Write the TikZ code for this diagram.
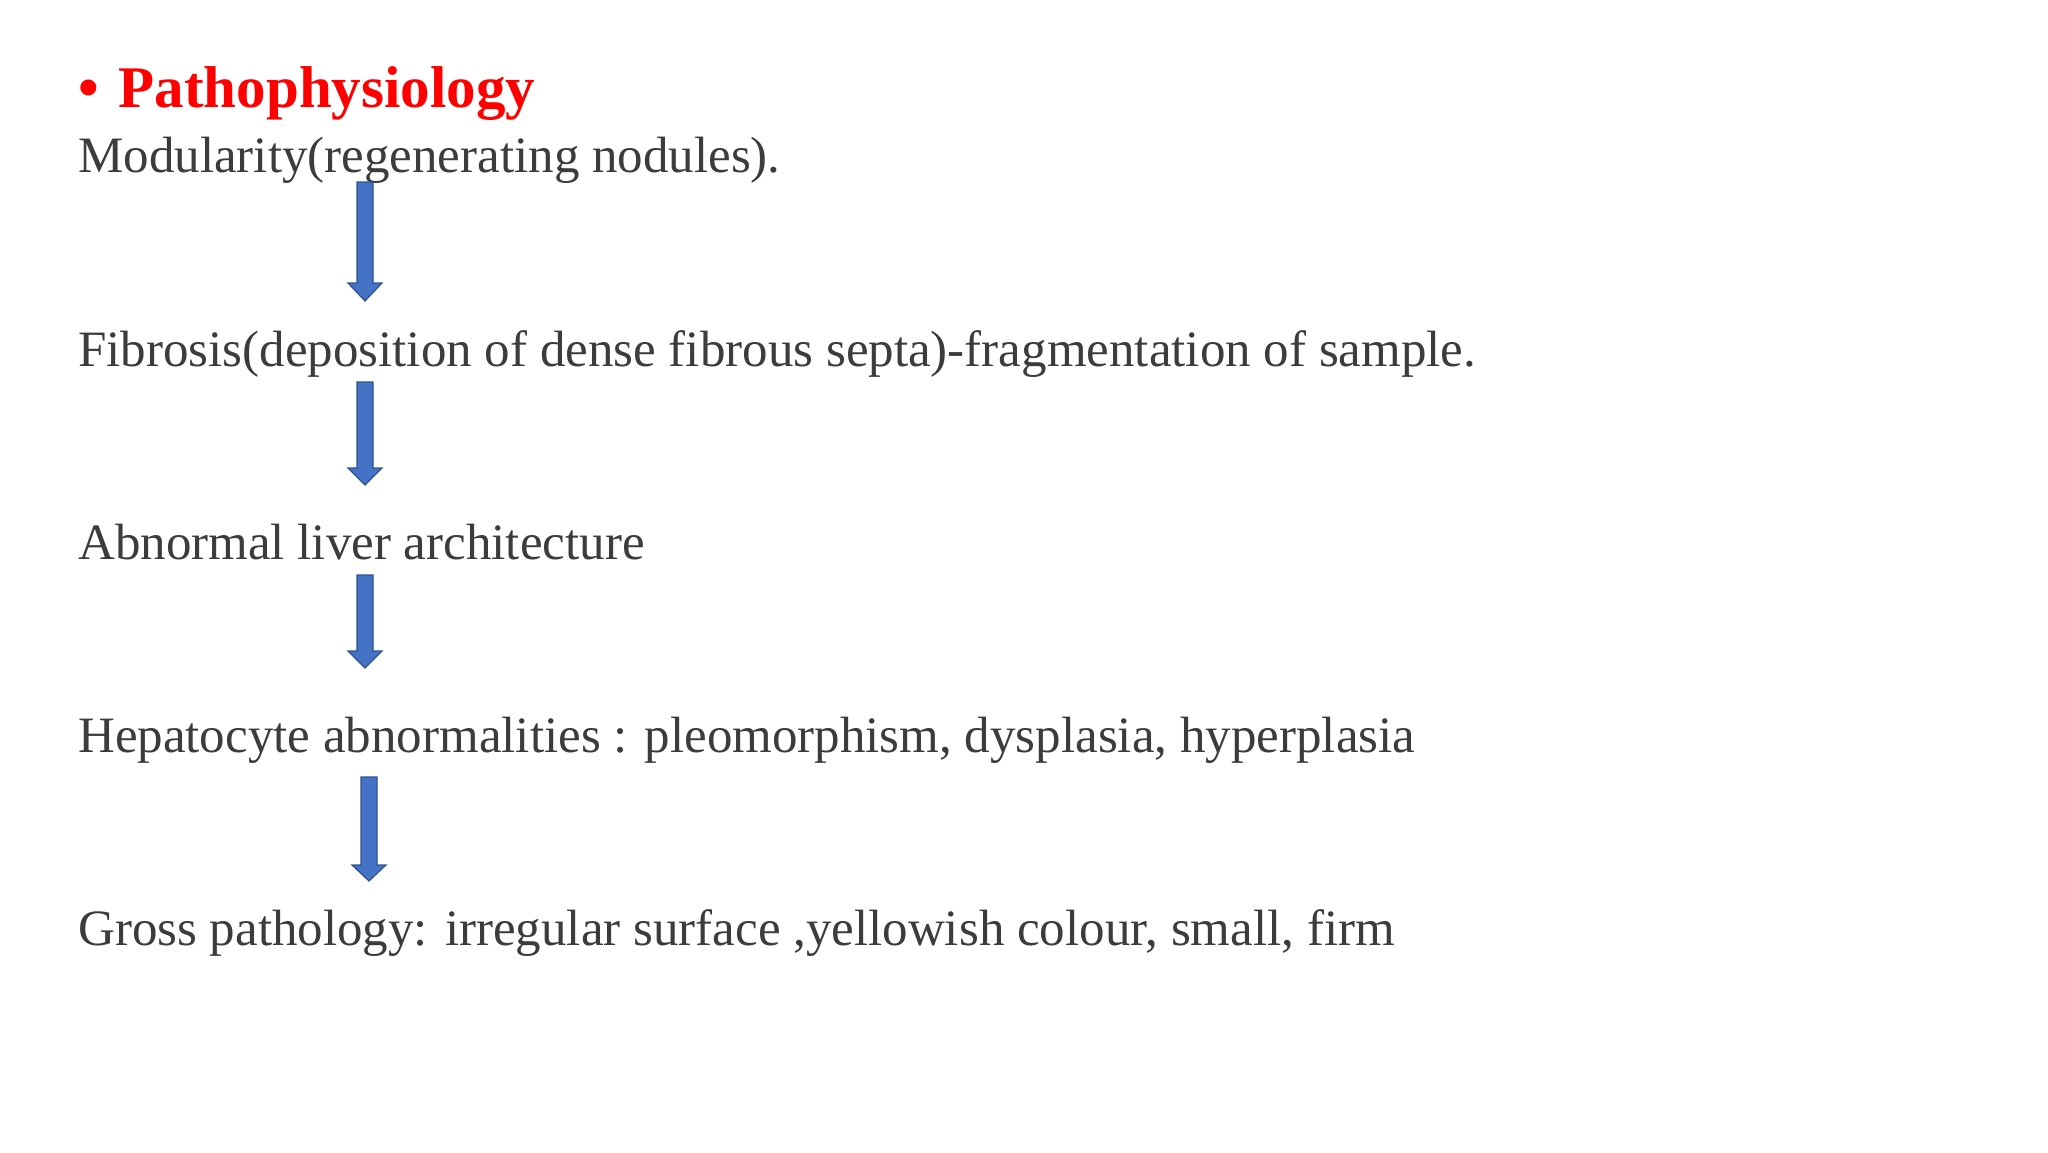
\documentclass[tikz,border=0pt]{standalone}
\usepackage{fontspec}
\setmainfont{Liberation Serif}
\definecolor{txtgray}{HTML}{3C3C3C}
\definecolor{titlered}{HTML}{FF0000}
\definecolor{arrowfill}{HTML}{4472C4}
\definecolor{arrowdraw}{HTML}{2F528F}
\tikzset{
  line/.style={anchor=base west, inner sep=0pt, text=txtgray, font=\fontsize{51}{60}\selectfont},
  titletext/.style={anchor=base west, inner sep=0pt, text=titlered, font=\fontsize{59}{70}\selectfont\bfseries},
  blockarrow/.style={fill=arrowfill, draw=arrowdraw, line width=1.2pt, line join=miter}
}
% x centre, top, head base, tip
\newcommand\myblockarrow[4]{%
  \draw[blockarrow] (#1-8,#2) -- (#1+8,#2) -- (#1+8,#3) -- (#1+17,#3) -- (#1,#4) -- (#1-17,#3) -- (#1-8,#3) -- cycle;}
\begin{document}
\begin{tikzpicture}[x=1pt,y=-1pt]
\useasboundingbox[fill=white] (0,0) rectangle (2048,1152);
\node[titletext] (title) at (78,107) {•\hspace{20pt}Pathophysiology};
\node[line] (l1) at (78,172) {Modularity(regenerating nodules).};
\node[line] (l2) at (78,366) {Fibrosis(deposition of dense fibrous septa)-fragmentation of sample.};
\node[line] (l3) at (78,559) {Abnormal liver architecture};
\node[line] (l4) at (78,752) {Hepatocyte abnormalities : pleomorphism, dysplasia, hyperplasia};
\node[line] (l5) at (78,945) {Gross pathology: irregular surface ,yellowish colour, small, firm};
\myblockarrow{365}{182}{283}{301}
\myblockarrow{365}{382}{468}{485}
\myblockarrow{365}{575}{651}{668}
\myblockarrow{369}{777}{865}{881}
\end{tikzpicture}
\end{document}
